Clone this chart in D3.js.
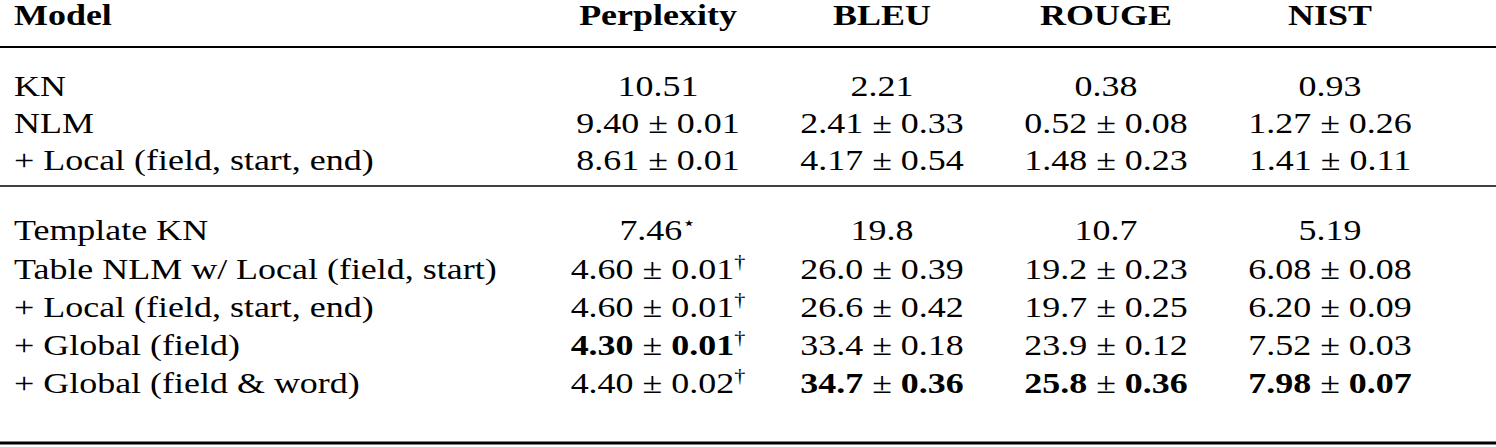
<!DOCTYPE html><html><head><meta charset="utf-8"><script src="https://cdn.jsdelivr.net/npm/d3@7"></script>
<style>body{margin:0;background:#fff}</style></head><body><svg id="c" width="1496" height="447"></svg>
<script>
const columns=["Model","Perplexity","BLEU","ROUGE","NIST"];
const models=["KN","NLM","+ Local (field, start, end)","Template KN","Table NLM w/ Local (field, start)","+ Local (field, start, end)","+ Global (field)","+ Global (field & word)"];
const perplexity=[["10.51"],["9.40","0.01"],["8.61","0.01"],["7.46","","⋆"],["4.60","0.01","†"],["4.60","0.01","†"],["4.30","0.01","†"],["4.40","0.02","†"]];
const bleu=[["2.21"],["2.41","0.33"],["4.17","0.54"],["19.8"],["26.0","0.39"],["26.6","0.42"],["33.4","0.18"],["34.7","0.36"]];
const rouge=[["0.38"],["0.52","0.08"],["1.48","0.23"],["10.7"],["19.2","0.23"],["19.7","0.25"],["23.9","0.12"],["25.8","0.36"]];
const nist=[["0.93"],["1.27","0.26"],["1.41","0.11"],["5.19"],["6.08","0.08"],["6.20","0.09"],["7.52","0.03"],["7.98","0.07"]];
const boldCells=[[6,1],[7,2],[7,3],[7,4]];
const svg=d3.select("#c");
const F="'Liberation Serif','Times New Roman',serif";
const SX=1.24;
const x=d3.scalePoint().domain(columns.slice(1)).range([658,1330]);
const rowY=d3.scaleOrdinal().domain(d3.range(8)).range([96,133,170,240,279,317,355,393]);
function txt(px,py,anchor){return svg.append("text").attr("transform",`translate(${px},${py}) scale(${SX},1)`).attr("text-anchor",anchor).attr("font-family",F).attr("font-size",29);}
txt(14,25,"start").attr("font-weight","bold").text(columns[0]);
columns.slice(1).forEach(c=>txt(x(c),25,"middle").attr("font-weight","bold").text(c));
[[47,2],[186,1.5],[443,3]].forEach(([y,w])=>svg.append("line").attr("x1",0).attr("x2",1496).attr("y1",y).attr("y2",y).attr("stroke","#000").attr("stroke-width",w));
models.forEach((m,i)=>txt(14,rowY(i),"start").text(m));
const data=[perplexity,bleu,rouge,nist];
data.forEach((col,ci)=>col.forEach((v,ri)=>{
  const bold=boldCells.some(([r,c])=>r===ri&&c===ci+1);
  const t=txt(x(columns[ci+1]),rowY(ri),"middle");
  const w=bold?"bold":"normal";
  t.append("tspan").attr("font-weight",w).text(v[0]);
  if(v[1]){t.append("tspan").text(" ± ");t.append("tspan").attr("font-weight",w).text(v[1]);}
  if(v[2]){t.append("tspan").attr("font-size",18).attr("dy",-11).text(v[2]);}
}));
</script></body></html>
